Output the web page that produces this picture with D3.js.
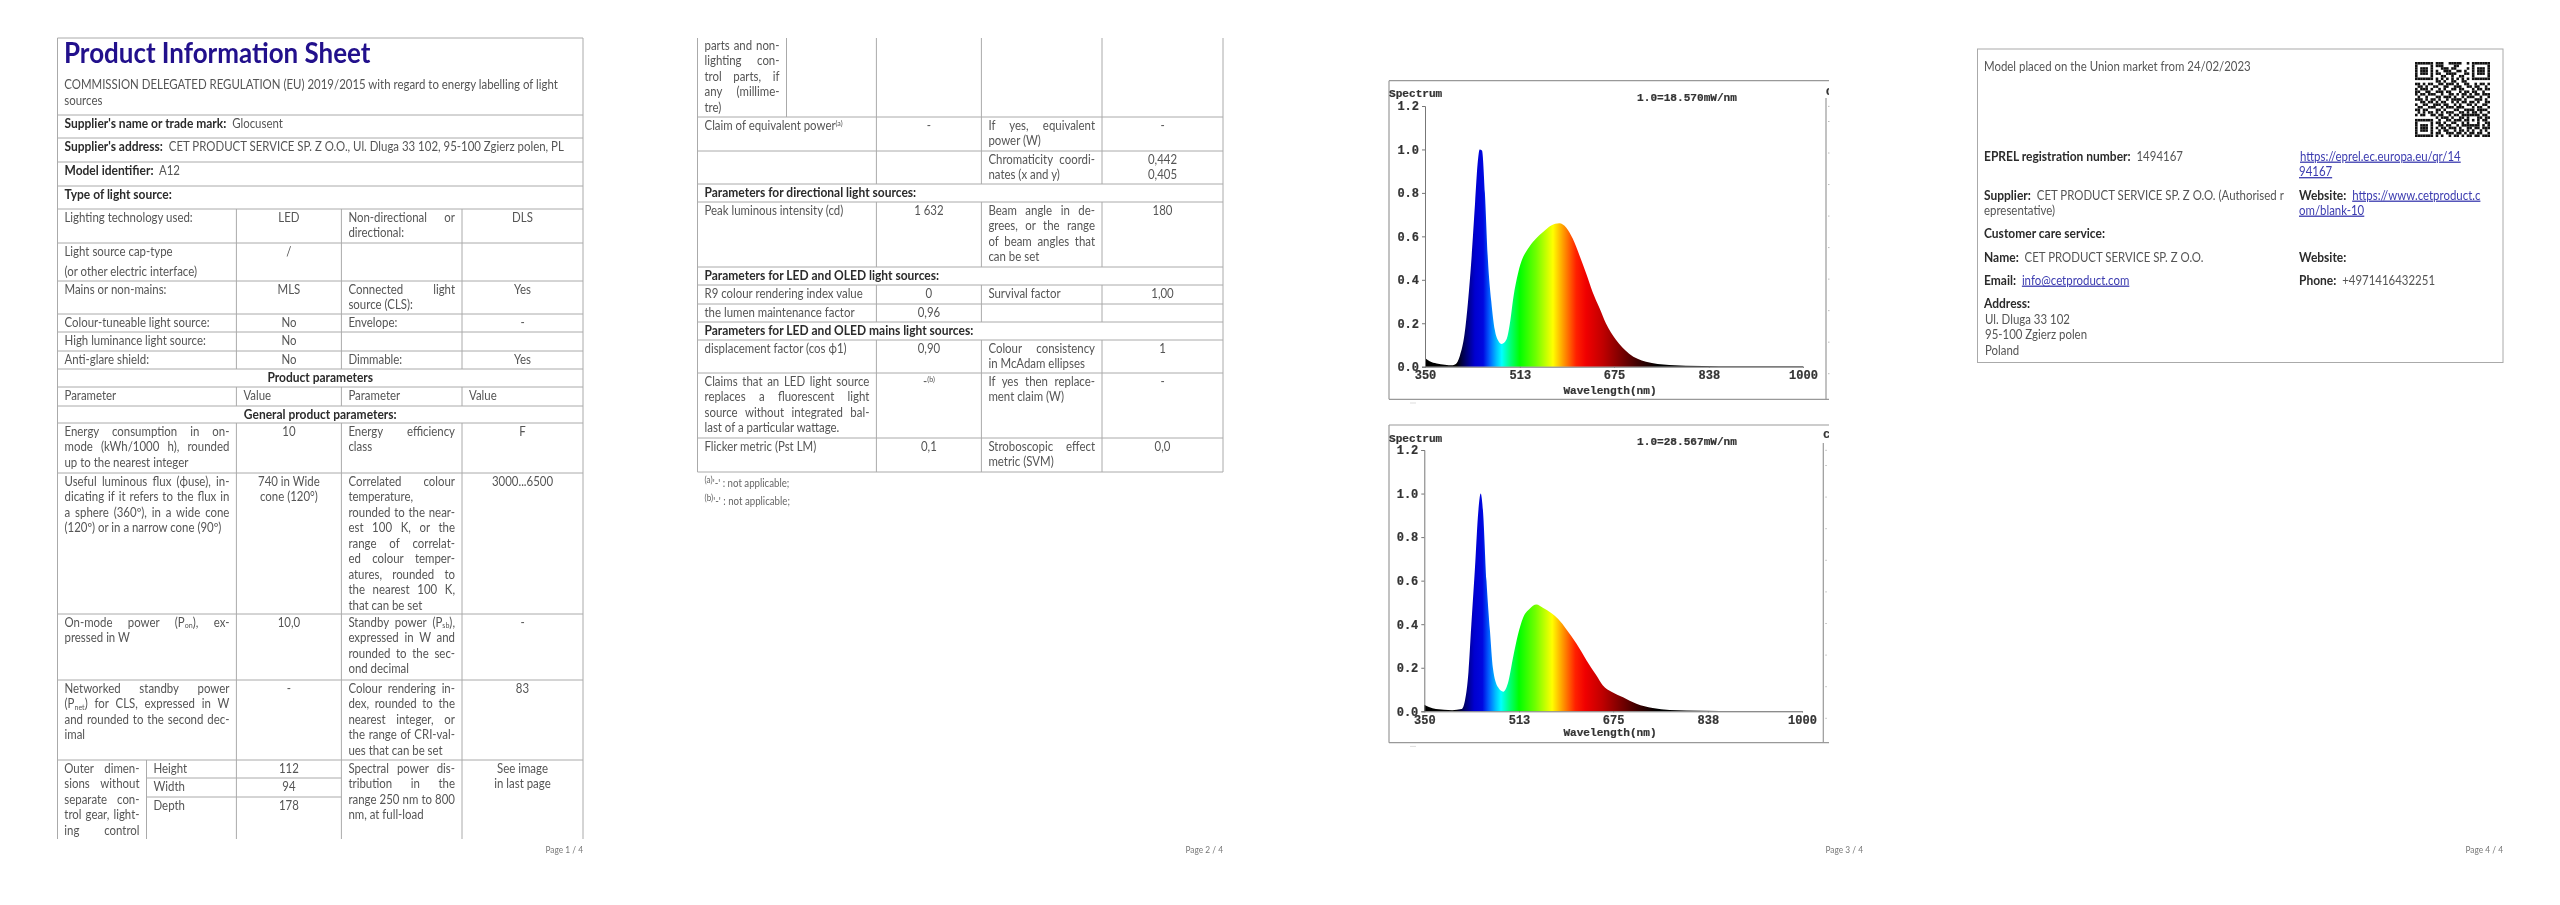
<!DOCTYPE html>
<html>
<head>
<meta charset="utf-8">
<script src="https://cdn.jsdelivr.net/npm/d3@7"></script>
<style>
  html, body { margin: 0; background: #fff; }
  svg { display: block; filter: blur(0.3px); }
  text { font-family: Lato, "Noto Sans", sans-serif; white-space: pre; }
  .mono { font-family: "Liberation Mono", "DejaVu Sans Mono", monospace; font-weight: 700; fill: #333; stroke: #333; stroke-width: 0.2px; }
</style>
</head>
<body>
<div id="sheet"></div>
<script>
// --- spectrum data ---
const wavelengthsLow = [350, 358, 370, 398, 403, 410, 418, 424, 430, 436, 441, 444, 448, 453, 458, 464, 470, 476, 482, 490, 496, 502, 510, 518, 524, 530, 541, 553, 567, 581, 593, 604, 616, 627, 638, 650, 661, 678, 701, 730, 770, 827, 884, 1000];
const powerLow = [0.04, 0.025, 0.015, 0.007, 0.012, 0.05, 0.15, 0.3, 0.5, 0.75, 0.95, 1.0, 0.995, 0.8, 0.5, 0.3, 0.17, 0.12, 0.105, 0.125, 0.2, 0.32, 0.43, 0.5, 0.53, 0.555, 0.59, 0.62, 0.65, 0.66, 0.64, 0.59, 0.51, 0.43, 0.345, 0.27, 0.2, 0.125, 0.06, 0.023, 0.008, 0.003, 0.002, 0.002];
const wavelengthsHigh = [350, 358, 370, 398, 414, 420, 426, 431, 437, 443, 447, 451, 457, 463, 468, 477, 486, 494, 503, 511, 520, 531, 543, 554, 569, 580, 595, 612, 629, 646, 657, 672, 692, 715, 743, 772, 830, 887, 1000];
const powerHigh = [0.03, 0.02, 0.01, 0.005, 0.01, 0.05, 0.18, 0.4, 0.65, 0.92, 1.0, 0.92, 0.6, 0.37, 0.2, 0.11, 0.09, 0.13, 0.25, 0.35, 0.43, 0.47, 0.49, 0.475, 0.45, 0.425, 0.375, 0.31, 0.235, 0.165, 0.12, 0.09, 0.065, 0.035, 0.015, 0.006, 0.002, 0.001, 0.001];
const wavelengthTicks = [350, 513, 675, 838, 1000];
const powerTicks = [0, 0.2, 0.4, 0.6, 0.8, 1.0, 1.2];
const sideTicks = [0, 1, 2, 3, 4, 5, 6, 7, 8, 8.48];
const gradientWavelengths = [350, 404, 420, 436, 450, 461, 473, 482, 496, 513, 541, 570, 587, 610, 627, 656, 685, 715, 750, 1000];
const gradientColors = ["#000", "#000", "#00006e", "#0000d0", "#0008e0", "#0060ff", "#00c0ff", "#00ffff", "#00ff80", "#00ff00", "#70ff00", "#ffff00", "#ffa000", "#ff2000", "#f00000", "#c00000", "#800000", "#400000", "#000", "#000"];
const spectrumLabels = ["1.0=18.570mW/nm", "1.0=28.567mW/nm"];

// --- document text ---
const titleLine = "Product Information Sheet";
const regulationLines = ["COMMISSION DELEGATED REGULATION (EU) 2019/2015 with regard to energy labelling of light", "sources"];
const pageOneRows = [
  ["**Supplier's name or trade mark:**  Glocusent"],
  ["**Supplier's address:**  CET PRODUCT SERVICE SP. Z O.O., Ul. Dluga 33 102, 95-100 Zgierz polen, PL"],
  ["**Model identifier:**  A12"],
  ["**Type of light source:**"],
  [["Lighting technology used:"], ["LED"], ["Non-directional or", "directional:"], ["DLS"]],
  [["<Light source cap-type", "(or other electric interface)"], ["/"], [], []],
  [["Mains or non-mains:"], ["MLS"], ["Connected light", "source (CLS):"], ["Yes"]],
  [["Colour-tuneable light source:"], ["No"], ["Envelope:"], ["-"]],
  [["High luminance light source:"], ["No"], [], []],
  [["Anti-glare shield:"], ["No"], ["Dimmable:"], ["Yes"]],
  ["=Product parameters"],
  [["Parameter"], ["<Value"], ["Parameter"], ["<Value"]],
  ["=General product parameters:"],
  [["Energy consumption in on-", "mode (kWh/1000 h), rounded", "up to the nearest integer"], ["10"], ["Energy efficiency", "class"], ["F"]],
  [["Useful luminous flux (\u03d5use), in-", "dicating if it refers to the flux in", "a sphere (360\u00ba), in a wide cone", "(120\u00ba) or in a narrow cone (90\u00ba)"], ["740 in Wide", "cone (120\u00b0)"],
    ["Correlated colour", "temperature,", "rounded to the near-", "est 100 K, or the", "range of correlat-", "ed colour temper-", "atures, rounded to", "the nearest 100 K,", "that can be set"], ["3000...6500"]],
  [["On-mode power (P_{on}), ex-", "pressed in W"], ["10,0"], ["Standby power (P_{sb}),", "expressed in W and", "rounded to the sec-", "ond decimal"], ["-"]],
  [["Networked standby power", "(P_{net}) for CLS, expressed in W", "and rounded to the second dec-", "imal"], ["-"], ["Colour rendering in-", "dex, rounded to the", "nearest integer, or", "the range of CRI-val-", "ues that can be set"], ["83"]],
  [null, null, ["Spectral power dis-", "tribution in the", "range 250 nm to 800", "nm, at full-load"], ["See image", "in last page"]]
];
const pageTwoRows = [
  [null, [], [], []],
  [["Claim of equivalent power^{(a)}"], ["-"], ["If yes, equivalent", "power (W)"], ["-"]],
  [[], [], ["Chromaticity coordi-", "nates (x and y)"], ["0,442", "0,405"]],
  ["**Parameters for directional light sources:**"],
  [["Peak luminous intensity (cd)"], ["1 632"], ["Beam angle in de-", "grees, or the range", "of beam angles that", "can be set"], ["180"]],
  ["**Parameters for LED and OLED light sources:**"],
  [["R9 colour rendering index value"], ["0"], ["Survival factor"], ["1,00"]],
  [["the lumen maintenance factor"], ["0,96"], [], []],
  ["**Parameters for LED and OLED mains light sources:**"],
  [["displacement factor (cos \u03d51)"], ["0,90"], ["Colour consistency", "in McAdam ellipses"], ["1"]],
  [["Claims that an LED light source", "replaces a fluorescent light", "source without integrated bal-", "last of a particular wattage."], ["-^{(b)}"], ["If yes then replace-", "ment claim (W)"], ["-"]],
  [["Flicker metric (Pst LM)"], ["0,1"], ["Stroboscopic effect", "metric (SVM)"], ["0,0"]]
];
const dimensionLeadLines = ["Outer dimen-", "sions without", "separate con-", "trol gear, light-", "ing control"];
const dimensionLabels = ["Height", "Width", "Depth"];
const dimensionValues = ["112", "94", "178"];
const dimensionTailLines = ["parts and non-", "lighting con-", "trol parts, if", "any (millime-", "tre)"];
const footnotes = ["^{(a)}'-' : not applicable;", "^{(b)}'-' : not applicable;"];
const pageLabels = ["Page 1 / 4", "Page 2 / 4", "Page 3 / 4", "Page 4 / 4"];
const cardLeftLines = ["Model placed on the Union market from 24/02/2023", "**EPREL registration number:**  1494167", "**Supplier:**  CET PRODUCT SERVICE SP. Z O.O. (Authorised r", "epresentative)", "**Customer care service:**", "**Name:**  CET PRODUCT SERVICE SP. Z O.O.", "**Email:**  [[info@cetproduct.com]]", "**Address:**", "Ul. Dluga 33 102", "95-100 Zgierz polen", "Poland"];
const cardRightLines = ["[[https://eprel.ec.europa.eu/qr/14]]", "[[94167]]", "**Website:**  [[https://www.cetproduct.c]]", "[[om/blank-10]]", "**Website:**", "**Phone:**  +4971416432251"];
const qrRows = [
  "11111110111001111100101111111",
  "10000010111000011000001000001",
  "10111010001110110000101011101",
  "10111010100111001101001011101",
  "10111010110011110001101011101",
  "10000010001100100110001000001",
  "11111110101010101010101111111",
  "00000000110100110011000000000",
  "11010110011011101001100101101",
  "01101001100110011100110110010",
  "10111010010100110110001011011",
  "11001100111011000101101100100",
  "10110111001001101011010110111",
  "01001000110111010010111001001",
  "11101011010010111101000111010",
  "00110110101100101011011010011",
  "10011001110110010100110100110",
  "01100111001011101110001011001",
  "11011000110100011001111011110",
  "01010110101011100110101101001",
  "10110011011001011011111110110",
  "00000000101110100110100011011",
  "11111110010011011101101010110",
  "10000010110100110010100010011",
  "10111010011011001011111110101",
  "10111010101101110100110110111",
  "10111010010110010110101001010",
  "10000010110011101101011011001",
  "11111110101001011010110110111"
];

// --- page layout ---
const pageOneCols = [57.5, 236.4, 341.4, 462, 583];
const pageTwoCols = pageOneCols.map((x) => x + 640);
const innerColOffset = 89;
const pageOneEdges = [115, 138, 162, 186, 209, 243, 281, 314, 332, 351, 369, 387, 406, 423, 473, 614, 680, 760, 839];
const pageTwoEdges = [38, 117, 151, 184, 202, 267, 285, 304, 322, 340, 373, 438, 472];
const dimensionEdges = [760, 778, 797];
const cardLeftBaselines = [71, 160.5, 199.5, 214.5, 238, 261.5, 284.5, 308, 323.5, 339, 354.5];
const cardRightBaselines = [160.5, 176, 199.5, 214.5, 261.5, 284.5];
const chartFrames = [
  { right: 1826, top: 80.7, bottom: 399.3, rightTop: 98, x0: 1425, x1: 1803, y0: 366.7, y1: 106, titleY: 100.5, spectrumY: 97, xTitleY: 394, xTitleX: 1610, cY: 95 },
  { right: 1823.3, top: 425, bottom: 742.7, rightTop: 443, x0: 1424.3, x1: 1802, y0: 711.3, y1: 450, titleY: 445, spectrumY: 441.5, xTitleY: 736, xTitleX: 1610, cY: 438 }
];
const bodySize = 13, linePitch = 15.45, loosePitch = 19.5, pad = 7, ruleColor = "#aaa";
const squeeze = 0.88; // Lato runs wider than the sheet's font

const svg = d3.select("#sheet").append("svg").attr("width", 2560).attr("height", 905);
const defs = svg.append("defs");

// turns **bold**, [[link]], _{sub} and ^{sup} markup into tspans
function addRuns(text, line, size) {
  line.split(/(\*\*.+?\*\*|\[\[.+?\]\]|_\{.+?\}|\^\{.+?\})/).filter((s) => s).forEach((part) => {
    const span = text.append("tspan");
    if (part.startsWith("**")) {
      span.text(part.slice(2, -2)).attr("font-weight", 700).attr("fill", "#2b2b2b").attr("font-size", size * 1.05);
    } else if (part.startsWith("[[")) {
      span.text(part.slice(2, -2)).attr("fill", "#3c3cb0").style("text-decoration", "underline");
    } else if (part.startsWith("_{") || part.startsWith("^{")) {
      span.text(part.slice(2, -1)).attr("font-size", size * (size < 12 ? 0.85 : 0.62))
        .attr("baseline-shift", part[0] === "_" ? "-15%" : "45%");
    } else {
      span.text(part);
    }
  });
}

function putLine(g, line, x, y, opts = {}) {
  const size = opts.size || bodySize;
  const text = g.append("text").attr("transform", `translate(${x},${y}) scale(${squeeze},1)`)
    .attr("font-size", size).attr("fill", opts.fill || "#555")
    .attr("text-anchor", opts.anchor || "start");
  addRuns(text, line, size);
  if (opts.fit) {
    const spaces = line.split(" ").length - 1;
    const spare = opts.fit / squeeze - text.node().getComputedTextLength();
    if (spaces > 0) text.style("word-spacing", spare / spaces + "px");
  }
  return text;
}

function putJustified(g, lines, left, right, top, pitch) {
  lines.forEach((line, i) => {
    const keepLeft = line.startsWith("<");
    const clean = keepLeft ? line.slice(1) : line;
    const last = i === lines.length - 1;
    putLine(g, clean, left, top + 13 + i * pitch, { fit: keepLeft || last ? null : right - left });
  });
}

function rule(g, x1, y1, x2, y2) {
  g.append("line").attr("x1", x1).attr("y1", y1).attr("x2", x2).attr("y2", y2)
    .attr("stroke", ruleColor).attr("stroke-width", 1);
}

function drawTable(cols, rows, edges, skipRules) {
  const g = svg.append("g");
  edges.forEach((y, i) => { if (!skipRules.includes(i)) rule(g, cols[0], y, cols[4], y); });
  rows.forEach((row, i) => {
    const top = edges[i], bottom = edges[i + 1];
    if (typeof row[0] === "string") {
      const centred = row[0].startsWith("=");
      if (centred) putLine(g, "**" + row[0].slice(1) + "**", (cols[0] + cols[4]) / 2, top + 13, { anchor: "middle" });
      else putLine(g, row[0], cols[0] + pad, top + 13);
      return;
    }
    [1, 2, 3].forEach((c) => rule(g, cols[c], top, cols[c], bottom));
    row.forEach((cell, c) => {
      if (!cell) return;
      // only the two-line cell with a "<" first line has the looser spacing
      const pitch = cell.length === 2 && cell[0].startsWith("<") ? loosePitch : linePitch;
      if (c % 2 === 0) {
        putJustified(g, cell, cols[c] + pad, cols[c + 1] - pad, top, pitch);
      } else {
        cell.forEach((line, l) => {
          if (line.startsWith("<")) putLine(g, line.slice(1), cols[c] + pad, top + 13 + l * pitch);
          else putLine(g, line, (cols[c] + cols[c + 1]) / 2, top + 13 + l * pitch, { anchor: "middle" });
        });
      }
    });
  });
  return g;
}

// page 1
const pageOne = drawTable(pageOneCols, pageOneRows, pageOneEdges, [pageOneEdges.length - 1]);
rule(pageOne, pageOneCols[0], 38, pageOneCols[4], 38);
rule(pageOne, pageOneCols[0], 38, pageOneCols[0], 839);
rule(pageOne, pageOneCols[4], 38, pageOneCols[4], 839);
putLine(pageOne, titleLine, 64, 63, { size: 29.5, fill: "#22108c" }).attr("font-weight", 700);
regulationLines.forEach((line, i) => putLine(pageOne, line, 64.3, 88.5 + i * 16));
const innerX = pageOneCols[0] + innerColOffset;
rule(pageOne, innerX, 760, innerX, 839);
dimensionLeadLines.forEach((line, i) => {
  putLine(pageOne, line, 64.3, 773 + i * linePitch, { fit: innerX - pad - 64.3 });
});
dimensionEdges.slice(1).forEach((y) => rule(pageOne, innerX, y, pageOneCols[2], y));
dimensionLabels.forEach((label, i) => {
  putLine(pageOne, label, innerX + pad, dimensionEdges[i] + 13);
  putLine(pageOne, dimensionValues[i], (pageOneCols[1] + pageOneCols[2]) / 2, dimensionEdges[i] + 13, { anchor: "middle" });
});

// page 2
const pageTwo = drawTable(pageTwoCols, pageTwoRows, pageTwoEdges, [0]);
rule(pageTwo, pageTwoCols[0], 38, pageTwoCols[0], 472);
rule(pageTwo, pageTwoCols[4], 38, pageTwoCols[4], 472);
const innerTwoX = pageTwoCols[0] + innerColOffset;
rule(pageTwo, innerTwoX, 38, innerTwoX, 117);
dimensionTailLines.forEach((line, i) => {
  const last = i === dimensionTailLines.length - 1;
  putLine(pageTwo, line, pageTwoCols[0] + pad, 50 + i * linePitch, { fit: last ? null : innerTwoX - pad - pageTwoCols[0] - pad });
});
footnotes.forEach((line, i) => putLine(pageTwo, line, pageTwoCols[0] + pad, 487 + i * 18, { size: 11, fill: "#666" }));

// page 3: the two spectra
function drawSpectrum(frame, wavelengths, values, label, index) {
  const g = svg.append("g");
  const left = 1389;
  const x = d3.scaleLinear().domain([350, 1000]).range([frame.x0, frame.x1]);
  const y = d3.scaleLinear().domain([0, 1.2]).range([frame.y0, frame.y1]);
  const side = d3.scaleLinear().domain([0, 8]).range([frame.y0 + 7, frame.y1 + 15.5]);

  const gradient = defs.append("linearGradient").attr("id", "spectral" + index)
    .attr("gradientUnits", "userSpaceOnUse")
    .attr("x1", x(350)).attr("x2", x(1000)).attr("y1", 0).attr("y2", 0);
  gradientWavelengths.forEach((w, i) => {
    gradient.append("stop").attr("offset", (w - 350) / 650).attr("stop-color", gradientColors[i]);
  });
  defs.append("clipPath").attr("id", "pageEdge" + index).append("rect")
    .attr("x", left).attr("y", frame.top).attr("width", 1829 - left).attr("height", frame.bottom - frame.top);

  const area = d3.area().x((d, i) => x(wavelengths[i])).y0(y(0)).y1((d) => y(d)).curve(d3.curveMonotoneX);
  g.append("path").datum(values).attr("d", area).attr("fill", `url(#spectral${index})`);

  [[left, frame.top, 1829, frame.top], [left, frame.bottom, 1829, frame.bottom],
   [left, frame.top, left, frame.bottom], [frame.right, frame.rightTop, frame.right, frame.bottom]]
    .forEach((s) => g.append("line").attr("x1", s[0]).attr("y1", s[1]).attr("x2", s[2]).attr("y2", s[3])
      .attr("stroke", "#999").attr("stroke-width", 1.2));
  g.append("line").attr("x1", left + 21).attr("x2", left + 27).attr("y1", frame.bottom + 3.7).attr("y2", frame.bottom + 3.7)
    .attr("stroke", "#ddd");

  const yAxis = d3.axisLeft(y).tickValues(powerTicks).tickFormat(d3.format(".1f")).tickSize(3).tickPadding(3);
  const xAxis = d3.axisBottom(x).tickValues(wavelengthTicks).tickFormat(d3.format("d")).tickSize(1).tickPadding(3);
  [g.append("g").attr("transform", `translate(${x(350)},0)`).call(yAxis),
   g.append("g").attr("transform", `translate(0,${y(0)})`).call(xAxis)].forEach((axis) => {
    axis.selectAll("text").attr("class", "mono").attr("font-size", 12);
    axis.selectAll("path,line").attr("stroke", "#777");
  });

  // cut-off plot that continues past the page edge
  g.selectAll("line.side").data(sideTicks).join("line").attr("class", "side")
    .attr("x1", frame.right + 2).attr("x2", frame.right + 3.5)
    .attr("y1", (d) => side(d)).attr("y2", (d) => side(d))
    .attr("stroke", "#bbb");
  g.append("text").attr("class", "mono").attr("font-size", 11.1).attr("x", frame.right).attr("y", frame.cY)
    .attr("clip-path", `url(#pageEdge${index})`).text("C");

  g.append("text").attr("class", "mono").attr("font-size", 11.1).attr("x", left).attr("y", frame.spectrumY).text("Spectrum");
  g.append("text").attr("class", "mono").attr("font-size", 11.1).attr("x", 1687).attr("y", frame.titleY).attr("text-anchor", "middle").text(label);
  g.append("text").attr("class", "mono").attr("font-size", 11.1).attr("x", frame.xTitleX).attr("y", frame.xTitleY).attr("text-anchor", "middle").text("Wavelength(nm)");
}
drawSpectrum(chartFrames[0], wavelengthsLow, powerLow, spectrumLabels[0], 0);
drawSpectrum(chartFrames[1], wavelengthsHigh, powerHigh, spectrumLabels[1], 1);

// page 4
const card = svg.append("g");
card.append("rect").attr("x", 1977.5).attr("y", 49).attr("width", 525.5).attr("height", 313.5)
  .attr("fill", "none").attr("stroke", ruleColor);
cardLeftLines.forEach((line, i) => putLine(card, line, i > 7 ? 1985 : 1984, cardLeftBaselines[i]));
cardRightLines.forEach((line, i) => putLine(card, line, i === 0 ? 2300 : 2299, cardRightBaselines[i]));

const qrX = d3.scaleBand().domain(d3.range(29)).range([2415, 2490]);
const qrY = d3.scaleBand().domain(d3.range(29)).range([62, 137]);
card.selectAll("g.qr").data(qrRows).join("g").attr("class", "qr")
  .selectAll("rect").data((row, r) => Array.from(row).map((bit, c) => ({ bit, c, r })).filter((d) => d.bit === "1"))
  .join("rect")
  .attr("x", (d) => qrX(d.c)).attr("y", (d) => qrY(d.r))
  .attr("width", qrX.bandwidth()).attr("height", qrY.bandwidth()).attr("fill", "#111");

// footers
[583, 1223, 1863, 2503].forEach((x, i) => {
  putLine(svg, pageLabels[i], x, 852.5, { size: 9.5, fill: "#777", anchor: "end" });
});
</script>
</body>
</html>
